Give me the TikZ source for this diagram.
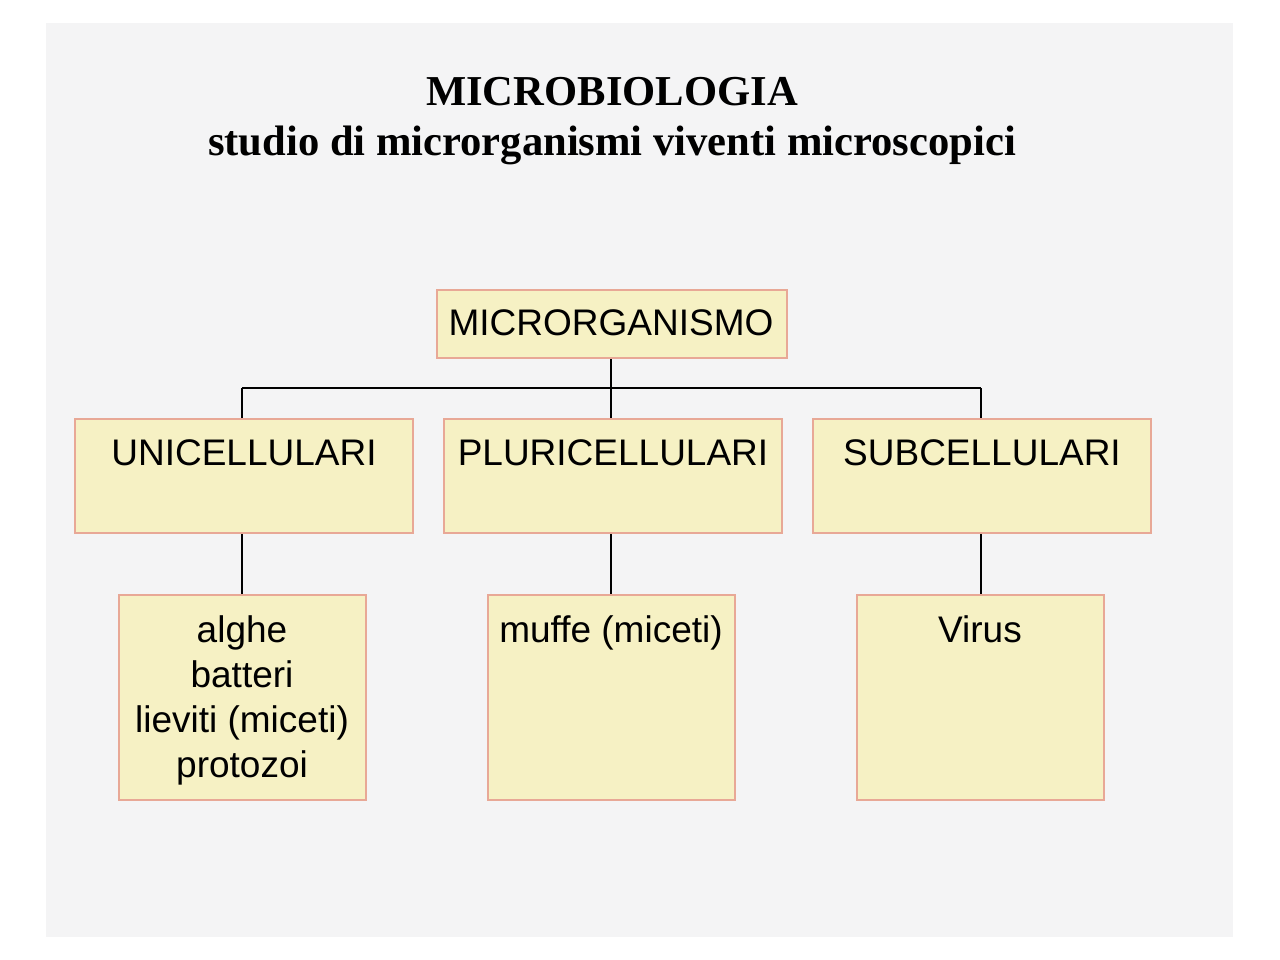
\documentclass[tikz,border=0pt]{standalone}
\usepackage{fontspec}
\setmainfont{Liberation Serif}
\newfontfamily\boxfont{Liberation Sans}
\definecolor{pagebg}{RGB}{244,244,245}
\definecolor{boxfill}{RGB}{246,241,196}
\definecolor{boxline}{RGB}{232,168,150}
\tikzset{
  box/.style={draw=boxline, fill=boxfill, line width=2pt, inner sep=0pt, anchor=north west},
  boxtxt/.style={font=\boxfont\fontsize{37}{45}\selectfont, inner sep=0pt, align=center},
  conn/.style={draw=black, line width=1.8pt},
  titletxt/.style={font=\bfseries\fontsize{42.6}{50}\selectfont, inner sep=0pt}
}
\begin{document}
\begin{tikzpicture}[x=1pt,y=-1pt]
\useasboundingbox (0,0) rectangle (1280,960);
\fill[white] (0,0) rectangle (1280,960);
\fill[pagebg] (46,23) rectangle (1233,937);

% title
\node[titletxt, anchor=base] (title1) at (612,106) {MICROBIOLOGIA};
\node[titletxt, anchor=base] (title2) at (612,156) {studio di microrganismi viventi microscopici};

% root
\node[box, minimum width=350pt, minimum height=68pt] (root) at (436,289) {};
\node[boxtxt, anchor=base] (roott) at (611,335.5) {MICRORGANISMO};

% level 1
\node[box, minimum width=338pt, minimum height=114pt] (uni) at (74,418) {};
\node[box, minimum width=338pt, minimum height=114pt] (plu) at (443,418) {};
\node[box, minimum width=338pt, minimum height=114pt] (sub) at (812,418) {};
\node[boxtxt, anchor=base] (unit) at (uni.north |- 0,465) {UNICELLULARI};
\node[boxtxt, anchor=base] (plut) at (plu.north |- 0,465) {PLURICELLULARI};
\node[boxtxt, anchor=base] (subt) at (sub.north |- 0,465) {SUBCELLULARI};

% level 2
\node[box, minimum width=247pt, minimum height=205pt] (alg) at (118,594) {};
\node[box, minimum width=247pt, minimum height=205pt] (muf) at (487,594) {};
\node[box, minimum width=247pt, minimum height=205pt] (vir) at (856,594) {};
\node[boxtxt, anchor=north] (algt) at (242,615) {alghe\\batteri\\lieviti (miceti)\\protozoi};
\node[boxtxt, anchor=base] (muft) at (611,642) {muffe (miceti)};
\node[boxtxt, anchor=base] (virt) at (980,642) {Virus};

% connectors
\coordinate (hub) at (611,388);
\coordinate (hl) at (242,388);
\coordinate (hr) at (981,388);
\draw[conn] (hub |- root.south) -- (hub);
\draw[conn] (hl) -- (hr);
\draw[conn] (hl) -- (hl |- uni.north);
\draw[conn] (hub) -- (hub |- plu.north);
\draw[conn] (hr) -- (hr |- sub.north);
\draw[conn] (hl |- uni.south) -- (hl |- alg.north);
\draw[conn] (hub |- plu.south) -- (hub |- muf.north);
\draw[conn] (hr |- sub.south) -- (hr |- vir.north);
\end{tikzpicture}
\end{document}
